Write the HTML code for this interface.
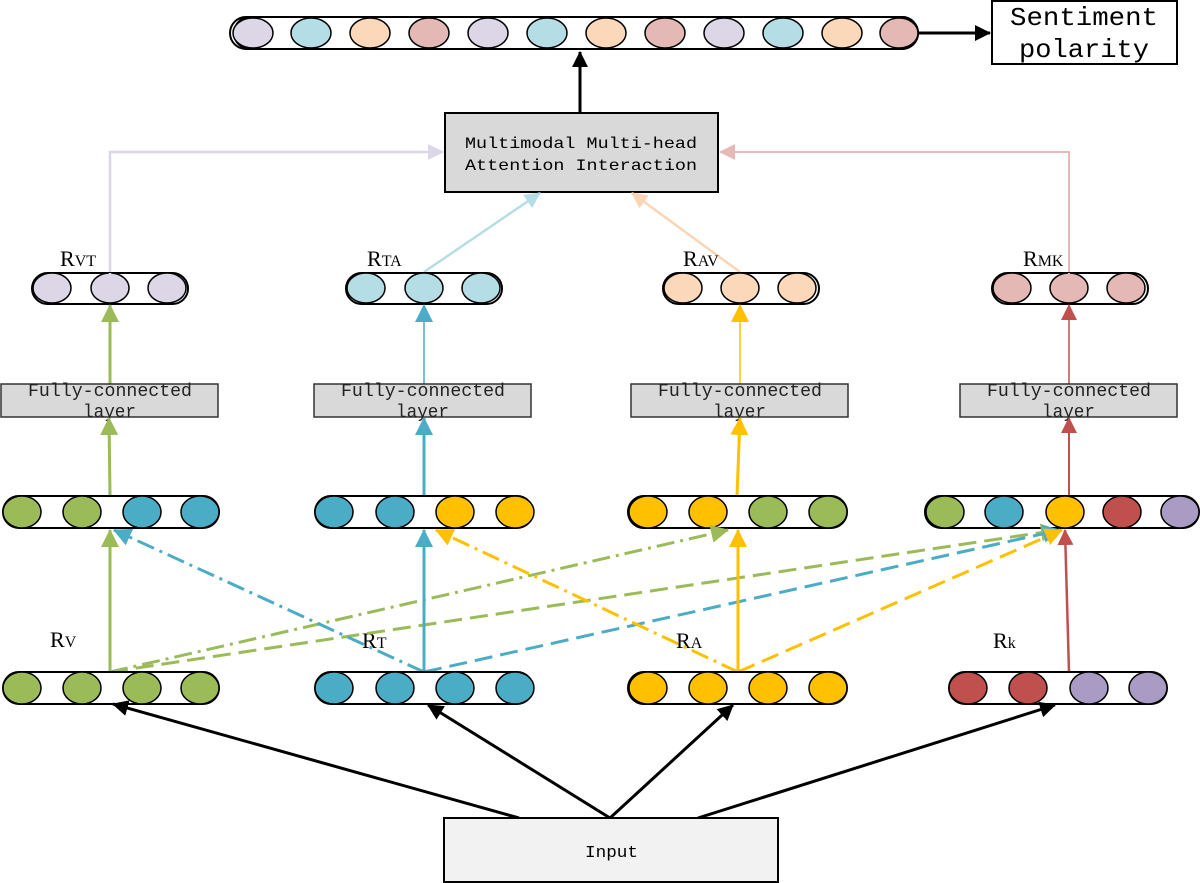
<!DOCTYPE html>
<html><head><meta charset="utf-8"><style>html,body{margin:0;padding:0;background:#fff}svg{display:block}</style></head>
<body>
<svg width="1200" height="883" viewBox="0 0 1200 883" xmlns="http://www.w3.org/2000/svg">
<defs>
<marker id="mkL" markerWidth="16" markerHeight="16" refX="15" refY="8" orient="auto" markerUnits="userSpaceOnUse"><path d="M0,0 L16,8 L0,16 z" fill="#000"/></marker>
<marker id="mg" markerWidth="18" markerHeight="18" refX="17" refY="9" orient="auto" markerUnits="userSpaceOnUse"><path d="M0,0 L18,9 L0,18 z" fill="#9bbb59"/></marker>
<marker id="mt" markerWidth="18" markerHeight="18" refX="17" refY="9" orient="auto" markerUnits="userSpaceOnUse"><path d="M0,0 L18,9 L0,18 z" fill="#4bacc6"/></marker>
<marker id="my" markerWidth="18" markerHeight="18" refX="17" refY="9" orient="auto" markerUnits="userSpaceOnUse"><path d="M0,0 L18,9 L0,18 z" fill="#ffc000"/></marker>
<marker id="mr" markerWidth="16" markerHeight="16" refX="15" refY="8" orient="auto" markerUnits="userSpaceOnUse"><path d="M0,0 L16,8 L0,16 z" fill="#c0504d"/></marker>
<marker id="ml" markerWidth="16" markerHeight="16" refX="15" refY="8" orient="auto" markerUnits="userSpaceOnUse"><path d="M0,0 L16,8 L0,16 z" fill="#dcd6e6"/></marker>
<marker id="mb" markerWidth="16" markerHeight="16" refX="15" refY="8" orient="auto" markerUnits="userSpaceOnUse"><path d="M0,0 L16,8 L0,16 z" fill="#b5dde6"/></marker>
<marker id="mp" markerWidth="16" markerHeight="16" refX="15" refY="8" orient="auto" markerUnits="userSpaceOnUse"><path d="M0,0 L16,8 L0,16 z" fill="#fbd5b5"/></marker>
<marker id="mk2" markerWidth="16" markerHeight="16" refX="15" refY="8" orient="auto" markerUnits="userSpaceOnUse"><path d="M0,0 L16,8 L0,16 z" fill="#e6b9b8"/></marker>
</defs>
<g stroke="#000" stroke-width="2">
<rect x="230" y="17" width="688" height="32" rx="16" fill="#fff"/>
<rect x="234" y="17" width="684" height="32" rx="16" fill="none"/>
<g stroke-width="1.5">
<ellipse cx="253" cy="33" rx="20" ry="15" fill="#dcd6e6"/>
<ellipse cx="311" cy="33" rx="20" ry="15" fill="#b5dde6"/>
<ellipse cx="370" cy="33" rx="20" ry="15" fill="#fcd8bb"/>
<ellipse cx="429" cy="33" rx="20" ry="15" fill="#e4b8b4"/>
<ellipse cx="488" cy="33" rx="20" ry="15" fill="#dcd6e6"/>
<ellipse cx="547" cy="33" rx="20" ry="15" fill="#b5dde6"/>
<ellipse cx="606" cy="33" rx="20" ry="15" fill="#fcd8bb"/>
<ellipse cx="665" cy="33" rx="20" ry="15" fill="#e4b8b4"/>
<ellipse cx="724" cy="33" rx="20" ry="15" fill="#dcd6e6"/>
<ellipse cx="783" cy="33" rx="20" ry="15" fill="#b5dde6"/>
<ellipse cx="842" cy="33" rx="20" ry="15" fill="#fcd8bb"/>
<ellipse cx="899" cy="33" rx="19" ry="15" fill="#e4b8b4"/>
</g>
</g>
<line x1="918" y1="33" x2="990" y2="33" stroke="#000" stroke-width="3" marker-end="url(#mkL)"/>
<rect x="992" y="1" width="185" height="63" fill="#fff" stroke="#000" stroke-width="2"/>
<g font-family="Liberation Mono, monospace" font-size="26" fill="#000" lengthAdjust="spacingAndGlyphs">
<text x="1010" y="25" textLength="148" lengthAdjust="spacingAndGlyphs">Sentiment</text><text x="1019" y="57" textLength="130" lengthAdjust="spacingAndGlyphs">polarity</text></g>
<line x1="580" y1="113" x2="580" y2="52" stroke="#000" stroke-width="3" marker-end="url(#mkL)"/>
<rect x="445" y="113" width="273" height="79" fill="#d9d9d9" stroke="#000" stroke-width="2"/>
<g font-family="Liberation Mono, monospace" font-size="16" fill="#000">
<text x="465" y="148" textLength="232" lengthAdjust="spacingAndGlyphs">Multimodal Multi-head</text><text x="465" y="170" textLength="232" lengthAdjust="spacingAndGlyphs">Attention Interaction</text></g>

<polyline points="110,272 110,152 443,152" fill="none" stroke="#dcd6e6" stroke-width="2.5" marker-end="url(#ml)"/>
<line x1="424" y1="272" x2="540" y2="193" stroke="#b5dde6" stroke-width="2.5" marker-end="url(#mb)"/>
<line x1="740" y1="272" x2="632" y2="193" stroke="#fbd5b5" stroke-width="2.5" marker-end="url(#mp)"/>
<polyline points="1069,272 1069,152 720,152" fill="none" stroke="#e6b9b8" stroke-width="2" marker-end="url(#mk2)"/>

<g stroke="#000" stroke-width="1.5">
<rect x="32" y="273" width="156" height="31" rx="15.5" fill="#fff" stroke-width="2"/>
<ellipse cx="52" cy="288" rx="19" ry="15" fill="#dcd6e6"/><ellipse cx="110" cy="288" rx="19" ry="15" fill="#dcd6e6"/><ellipse cx="167" cy="288" rx="19" ry="15" fill="#dcd6e6"/>
<rect x="346" y="273" width="156" height="31" rx="15.5" fill="#fff" stroke-width="2"/>
<ellipse cx="366" cy="288" rx="19" ry="15" fill="#b5dde6"/><ellipse cx="424" cy="288" rx="19" ry="15" fill="#b5dde6"/><ellipse cx="481" cy="288" rx="19" ry="15" fill="#b5dde6"/>
<rect x="663" y="273" width="156" height="31" rx="15.5" fill="#fff" stroke-width="2"/>
<ellipse cx="683" cy="288" rx="19" ry="15" fill="#fcd8bb"/><ellipse cx="740" cy="288" rx="19" ry="15" fill="#fcd8bb"/><ellipse cx="797" cy="288" rx="19" ry="15" fill="#fcd8bb"/>
<rect x="992" y="273" width="156" height="31" rx="15.5" fill="#fff" stroke-width="2"/>
<ellipse cx="1012" cy="288" rx="19" ry="15" fill="#e4b8b4"/><ellipse cx="1069" cy="288" rx="19" ry="15" fill="#e4b8b4"/><ellipse cx="1126" cy="288" rx="19" ry="15" fill="#e4b8b4"/>
</g>
<line x1="110" y1="273" x2="110" y2="285" stroke="#dcd6e6" stroke-width="2.5"/>
<line x1="1069" y1="273" x2="1069" y2="285" stroke="#e6b9b8" stroke-width="2"/>

<g font-family="Liberation Serif, serif" fill="#000">
<text x="60" y="266" font-size="22">R<tspan font-size="16">VT</tspan></text>
<text x="367" y="266" font-size="22">R<tspan font-size="16">TA</tspan></text>
<text x="683" y="266" font-size="22">R<tspan font-size="16">AV</tspan></text>
<text x="1023" y="266" font-size="22">R<tspan font-size="16">MK</tspan></text>
<text x="50" y="647" font-size="22">R<tspan font-size="16">V</tspan></text>
<text x="362" y="648" font-size="22">R<tspan font-size="16">T</tspan></text>
<text x="676" y="648" font-size="22">R<tspan font-size="16">A</tspan></text>
<text x="993" y="648" font-size="22">R<tspan font-size="16">k</tspan></text>
</g>

<line x1="110" y1="384" x2="110" y2="305" stroke="#9bbb59" stroke-width="3" marker-end="url(#mg)"/>
<line x1="424" y1="384" x2="424" y2="305" stroke="#4bacc6" stroke-width="1.5" marker-end="url(#mt)"/>
<line x1="740" y1="384" x2="740" y2="305" stroke="#ffc000" stroke-width="1.5" marker-end="url(#my)"/>
<line x1="1069" y1="384" x2="1069" y2="305" stroke="#c0504d" stroke-width="1.5" marker-end="url(#mr)"/>

<g fill="#d9d9d9" stroke="#333" stroke-width="1.5">
<rect x="1" y="384" width="217" height="33"/><rect x="314" y="384" width="217" height="33"/>
<rect x="631" y="384" width="217" height="33"/><rect x="960" y="384" width="217" height="33"/>
</g>
<g font-family="Liberation Mono, monospace" font-size="18" fill="#222">
<text x="28" y="396" textLength="164" lengthAdjust="spacingAndGlyphs">Fully-connected</text><text x="83" y="417" textLength="53" lengthAdjust="spacingAndGlyphs">layer</text>
<text x="341" y="396" textLength="164" lengthAdjust="spacingAndGlyphs">Fully-connected</text><text x="396" y="417" textLength="53" lengthAdjust="spacingAndGlyphs">layer</text>
<text x="658" y="396" textLength="164" lengthAdjust="spacingAndGlyphs">Fully-connected</text><text x="713" y="417" textLength="53" lengthAdjust="spacingAndGlyphs">layer</text>
<text x="987" y="396" textLength="164" lengthAdjust="spacingAndGlyphs">Fully-connected</text><text x="1042" y="417" textLength="53" lengthAdjust="spacingAndGlyphs">layer</text>
</g>

<line x1="110" y1="496" x2="109" y2="418" stroke="#9bbb59" stroke-width="3" marker-end="url(#mg)"/>
<line x1="424" y1="496" x2="424" y2="418" stroke="#4bacc6" stroke-width="3" marker-end="url(#mt)"/>
<line x1="737" y1="496" x2="740" y2="418" stroke="#ffc000" stroke-width="3" marker-end="url(#my)"/>
<line x1="1069" y1="496" x2="1069" y2="418" stroke="#c0504d" stroke-width="2" marker-end="url(#mr)"/>

<g stroke="#000" stroke-width="1.5">
<rect x="3" y="496" width="216" height="32" rx="16" fill="#fff" stroke-width="2"/>
<ellipse cx="22" cy="512" rx="19" ry="16" fill="#9bbb59"/><ellipse cx="82" cy="512" rx="19" ry="16" fill="#9bbb59"/><ellipse cx="142" cy="512" rx="19" ry="16" fill="#4bacc6"/><ellipse cx="200" cy="512" rx="19" ry="16" fill="#4bacc6"/>
<rect x="315" y="496" width="218" height="32" rx="16" fill="#fff" stroke-width="2"/>
<ellipse cx="334" cy="512" rx="19" ry="16" fill="#4bacc6"/><ellipse cx="395" cy="512" rx="19" ry="16" fill="#4bacc6"/><ellipse cx="455" cy="512" rx="19" ry="16" fill="#ffc000"/><ellipse cx="515" cy="512" rx="19" ry="16" fill="#ffc000"/>
<rect x="628" y="496" width="219" height="32" rx="16" fill="#fff" stroke-width="2"/>
<ellipse cx="648" cy="512" rx="19" ry="16" fill="#ffc000"/><ellipse cx="708" cy="512" rx="19" ry="16" fill="#ffc000"/><ellipse cx="768" cy="512" rx="19" ry="16" fill="#9bbb59"/><ellipse cx="828" cy="512" rx="19" ry="16" fill="#9bbb59"/>
<rect x="925" y="496" width="274" height="32" rx="16" fill="#fff" stroke-width="2"/>
<ellipse cx="945" cy="512" rx="19" ry="16" fill="#9bbb59"/><ellipse cx="1004" cy="512" rx="19" ry="16" fill="#4bacc6"/><ellipse cx="1065" cy="512" rx="19" ry="16" fill="#ffc000"/><ellipse cx="1122" cy="512" rx="19" ry="16" fill="#c0504d"/><ellipse cx="1180" cy="512" rx="19" ry="16" fill="#a99bc4"/>
</g>

<g fill="none" stroke-width="3">
<line x1="110" y1="672" x2="728" y2="530" stroke="#9bbb59" stroke-dasharray="18,6,3,6" marker-end="url(#mg)"/>
<line x1="110" y1="672" x2="1058" y2="530" stroke="#9bbb59" stroke-dasharray="18,8" marker-end="url(#mg)"/>
<line x1="424" y1="672" x2="114" y2="530" stroke="#4bacc6" stroke-dasharray="18,6,3,6" marker-end="url(#mt)"/>
<line x1="424" y1="672" x2="1060" y2="530" stroke="#4bacc6" stroke-dasharray="18,8" marker-end="url(#mt)"/>
<line x1="738" y1="672" x2="436" y2="530" stroke="#ffc000" stroke-dasharray="18,6,3,6" marker-end="url(#my)"/>
<line x1="738" y1="672" x2="1062" y2="530" stroke="#ffc000" stroke-dasharray="18,8" marker-end="url(#my)"/>
</g>

<line x1="110" y1="672" x2="110" y2="530" stroke="#9bbb59" stroke-width="3" marker-end="url(#mg)"/>
<line x1="424" y1="672" x2="424" y2="530" stroke="#4bacc6" stroke-width="3" marker-end="url(#mt)"/>
<line x1="738" y1="672" x2="738" y2="530" stroke="#ffc000" stroke-width="3" marker-end="url(#my)"/>
<line x1="1069" y1="672" x2="1065" y2="530" stroke="#c0504d" stroke-width="2.5" marker-end="url(#mr)"/>

<g stroke="#000" stroke-width="1.5">
<rect x="3" y="672" width="216" height="32" rx="16" fill="#fff" stroke-width="2"/>
<ellipse cx="22" cy="688" rx="19" ry="16" fill="#9bbb59"/><ellipse cx="82" cy="688" rx="19" ry="16" fill="#9bbb59"/><ellipse cx="142" cy="688" rx="19" ry="16" fill="#9bbb59"/><ellipse cx="200" cy="688" rx="19" ry="16" fill="#9bbb59"/>
<rect x="315" y="672" width="218" height="32" rx="16" fill="#fff" stroke-width="2"/>
<ellipse cx="334" cy="688" rx="19" ry="16" fill="#4bacc6"/><ellipse cx="395" cy="688" rx="19" ry="16" fill="#4bacc6"/><ellipse cx="455" cy="688" rx="19" ry="16" fill="#4bacc6"/><ellipse cx="515" cy="688" rx="19" ry="16" fill="#4bacc6"/>
<rect x="628" y="672" width="219" height="32" rx="16" fill="#fff" stroke-width="2"/>
<ellipse cx="648" cy="688" rx="19" ry="16" fill="#ffc000"/><ellipse cx="708" cy="688" rx="19" ry="16" fill="#ffc000"/><ellipse cx="768" cy="688" rx="19" ry="16" fill="#ffc000"/><ellipse cx="828" cy="688" rx="19" ry="16" fill="#ffc000"/>
<rect x="949" y="672" width="218" height="32" rx="16" fill="#fff" stroke-width="2"/>
<ellipse cx="968" cy="688" rx="19" ry="16" fill="#c0504d"/><ellipse cx="1028" cy="688" rx="19" ry="16" fill="#c0504d"/><ellipse cx="1089" cy="688" rx="19" ry="16" fill="#a99bc4"/><ellipse cx="1148" cy="688" rx="19" ry="16" fill="#a99bc4"/>
</g>

<g stroke="#000" stroke-width="3">
<line x1="519" y1="818" x2="113" y2="704" marker-end="url(#mkL)"/>
<line x1="610" y1="818" x2="428" y2="705" marker-end="url(#mkL)"/>
<line x1="610" y1="818" x2="733" y2="705" marker-end="url(#mkL)"/>
<line x1="698" y1="818" x2="1055" y2="705" marker-end="url(#mkL)"/>
</g>
<rect x="444" y="818" width="334" height="64" fill="#f2f2f2" stroke="#000" stroke-width="2"/>
<text x="585" y="857" font-family="Liberation Mono, monospace" font-size="17" fill="#000" textLength="53" lengthAdjust="spacingAndGlyphs">Input</text>
</svg>
</body></html>
